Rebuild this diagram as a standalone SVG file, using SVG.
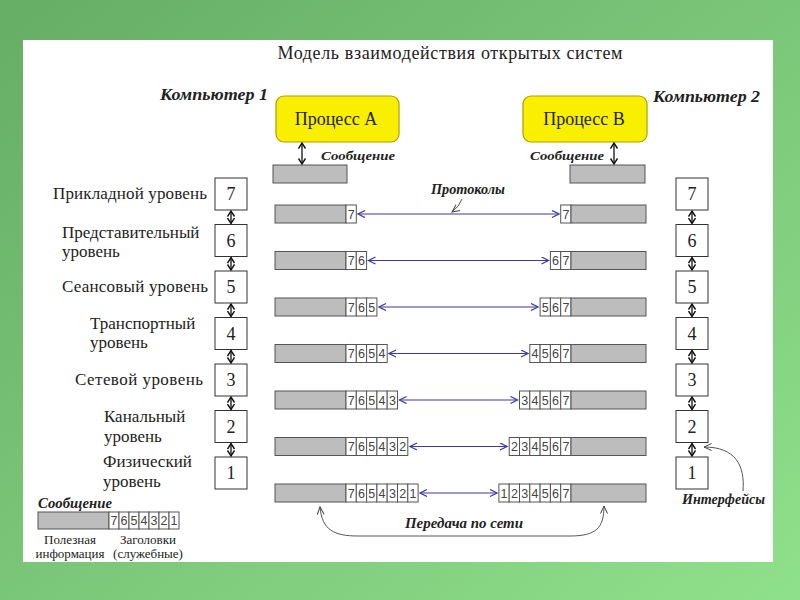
<svg xmlns="http://www.w3.org/2000/svg" width="800" height="600" viewBox="0 0 800 600">
<style>
.serif{font-family:'Liberation Serif','DejaVu Serif',serif;fill:#222}
.lbl{font-size:17px}
.it{font-family:'Liberation Serif','DejaVu Serif',serif;font-style:italic;font-weight:bold;fill:#222}
.gray{fill:#bdbdbd;stroke:#555;stroke-width:1}
.cell{fill:#fff;stroke:#555;stroke-width:1}
.cn{font-family:'Liberation Sans',Arial,sans-serif;font-size:12.5px;fill:#444;text-anchor:middle}
.box{fill:#fff;stroke:#333;stroke-width:1}
.bn{font-family:'Liberation Serif','DejaVu Serif',serif;font-size:18px;fill:#222;text-anchor:middle}
.proc{fill:#f8f000;stroke:#b59a00;stroke-width:1.2}
.blue{stroke:#3b3ba8;stroke-width:1.2;fill:none;marker-start:url(#bh);marker-end:url(#bh)}
.blk{stroke:#111;stroke-width:1.3;fill:none;marker-start:url(#kh);marker-end:url(#kh)}
.thin{stroke:#555;stroke-width:1;fill:none}
</style>
<defs>
<linearGradient id="bg" x1="0" y1="0" x2="1" y2="1">
<stop offset="0" stop-color="#66ad66"/>
<stop offset="1" stop-color="#8fe08b"/>
</linearGradient>
<marker id="bh" markerUnits="userSpaceOnUse" markerWidth="10" markerHeight="10" refX="8" refY="4" orient="auto-start-reverse">
<path d="M1,0.5 L8,4 L1,7.5" fill="none" stroke="#3b3ba8" stroke-width="1.3"/>
</marker>
<marker id="kh" markerUnits="userSpaceOnUse" markerWidth="10" markerHeight="10" refX="6" refY="4" orient="auto-start-reverse">
<path d="M0.5,0.5 L6,4 L0.5,7.5" fill="none" stroke="#111" stroke-width="1.4"/>
</marker>
<marker id="gh" markerUnits="userSpaceOnUse" markerWidth="12" markerHeight="12" refX="8" refY="4" orient="auto-start-reverse">
<path d="M0.5,0.5 L8,4 L0.5,7.5" fill="none" stroke="#444" stroke-width="1"/>
</marker>
</defs>
<rect x="0" y="0" width="800" height="600" fill="url(#bg)"/>
<rect x="23" y="40" width="750" height="522" fill="#fff"/>
<text class="serif" x="450" y="59" font-size="18" text-anchor="middle" textLength="345">Модель взаимодействия открытых систем</text>
<text class="it" x="160" y="100" font-size="16" textLength="108" lengthAdjust="spacingAndGlyphs">Компьютер 1</text>
<text class="it" x="653" y="102" font-size="16" textLength="107" lengthAdjust="spacingAndGlyphs">Компьютер 2</text>

<g id="procA">
<rect class="proc" x="276" y="96" width="123" height="46" rx="8"/>
<text class="serif" x="336" y="125" font-size="18" text-anchor="middle">Процесс А</text>
</g>
<g id="procB">
<rect class="proc" x="523" y="96" width="124" height="46" rx="8"/>
<text class="serif" x="584" y="125" font-size="18" text-anchor="middle">Процесс В</text>
</g>
<g id="msgA">
<rect class="gray" x="273" y="165" width="74" height="18"/>
<text class="it" x="321" y="160" font-size="13.5" textLength="74" lengthAdjust="spacingAndGlyphs">Сообщение</text>
</g>
<g id="msgB">
<rect class="gray" x="570" y="165" width="75" height="18"/>
<text class="it" x="530" y="160" font-size="13.5" textLength="74" lengthAdjust="spacingAndGlyphs">Сообщение</text>
</g>

<g id="left-stack">
<g id="L7"><rect class="box" x="215" y="178" width="32" height="32"/><text class="bn" x="231" y="200">7</text><text class="serif lbl" x="53" y="199" textLength="154">Прикладной уровень</text></g>
<g id="L6"><rect class="box" x="215" y="224.5" width="32" height="32"/><text class="bn" x="231" y="246.5">6</text><text class="serif lbl" x="62" y="238">Представительный</text><text class="serif lbl" x="62" y="257">уровень</text></g>
<g id="L5"><rect class="box" x="215" y="271" width="32" height="32"/><text class="bn" x="231" y="293">5</text><text class="serif lbl" x="62" y="292" textLength="146">Сеансовый уровень</text></g>
<g id="L4"><rect class="box" x="215" y="317.5" width="32" height="32"/><text class="bn" x="231" y="339.5">4</text><text class="serif lbl" x="90" y="329">Транспортный</text><text class="serif lbl" x="90" y="348">уровень</text></g>
<g id="L3"><rect class="box" x="215" y="364" width="32" height="32"/><text class="bn" x="231" y="386">3</text><text class="serif lbl" x="75" y="385" textLength="128">Сетевой уровень</text></g>
<g id="L2"><rect class="box" x="215" y="410.5" width="32" height="32"/><text class="bn" x="231" y="432.5">2</text><text class="serif lbl" x="104" y="422">Канальный</text><text class="serif lbl" x="104" y="442">уровень</text></g>
<g id="L1"><rect class="box" x="215" y="457" width="32" height="32"/><text class="bn" x="231" y="479">1</text><text class="serif lbl" x="103" y="467">Физический</text><text class="serif lbl" x="103" y="487">уровень</text></g>
</g>

<g id="right-stack">
<g id="R7"><rect class="box" x="676" y="178" width="32" height="32"/><text class="bn" x="692" y="200">7</text></g>
<g id="R6"><rect class="box" x="676" y="224.5" width="32" height="32"/><text class="bn" x="692" y="246.5">6</text></g>
<g id="R5"><rect class="box" x="676" y="271" width="32" height="32"/><text class="bn" x="692" y="293">5</text></g>
<g id="R4"><rect class="box" x="676" y="317.5" width="32" height="32"/><text class="bn" x="692" y="339.5">4</text></g>
<g id="R3"><rect class="box" x="676" y="364" width="32" height="32"/><text class="bn" x="692" y="386">3</text></g>
<g id="R2"><rect class="box" x="676" y="410.5" width="32" height="32"/><text class="bn" x="692" y="432.5">2</text></g>
<g id="R1"><rect class="box" x="676" y="457" width="32" height="32"/><text class="bn" x="692" y="479">1</text></g>
</g>

<g id="row7">
<rect class="gray" x="275" y="205" width="71" height="18"/>
<rect class="cell" x="346" y="205" width="10.3" height="18"/><text class="cn" x="351.2" y="218.5">7</text>
<rect class="cell" x="560.7" y="205" width="10.3" height="18"/><text class="cn" x="565.9" y="218.5">7</text>
<rect class="gray" x="571" y="205" width="75" height="18"/>
</g>
<g id="row6">
<rect class="gray" x="275" y="251.5" width="71" height="18"/>
<rect class="cell" x="346" y="251.5" width="10.3" height="18"/><text class="cn" x="351.2" y="265">7</text>
<rect class="cell" x="356.3" y="251.5" width="10.3" height="18"/><text class="cn" x="361.5" y="265">6</text>
<rect class="cell" x="550.4" y="251.5" width="10.3" height="18"/><text class="cn" x="555.6" y="265">6</text>
<rect class="cell" x="560.7" y="251.5" width="10.3" height="18"/><text class="cn" x="565.9" y="265">7</text>
<rect class="gray" x="571" y="251.5" width="75" height="18"/>
</g>
<g id="row5">
<rect class="gray" x="275" y="298" width="71" height="18"/>
<rect class="cell" x="346" y="298" width="10.3" height="18"/><text class="cn" x="351.2" y="311.5">7</text>
<rect class="cell" x="356.3" y="298" width="10.3" height="18"/><text class="cn" x="361.5" y="311.5">6</text>
<rect class="cell" x="366.6" y="298" width="10.3" height="18"/><text class="cn" x="371.8" y="311.5">5</text>
<rect class="cell" x="540.1" y="298" width="10.3" height="18"/><text class="cn" x="545.3" y="311.5">5</text>
<rect class="cell" x="550.4" y="298" width="10.3" height="18"/><text class="cn" x="555.6" y="311.5">6</text>
<rect class="cell" x="560.7" y="298" width="10.3" height="18"/><text class="cn" x="565.9" y="311.5">7</text>
<rect class="gray" x="571" y="298" width="75" height="18"/>
</g>
<g id="row4">
<rect class="gray" x="275" y="344.5" width="71" height="18"/>
<rect class="cell" x="346" y="344.5" width="10.3" height="18"/><text class="cn" x="351.2" y="358">7</text>
<rect class="cell" x="356.3" y="344.5" width="10.3" height="18"/><text class="cn" x="361.5" y="358">6</text>
<rect class="cell" x="366.6" y="344.5" width="10.3" height="18"/><text class="cn" x="371.8" y="358">5</text>
<rect class="cell" x="376.9" y="344.5" width="10.3" height="18"/><text class="cn" x="382.1" y="358">4</text>
<rect class="cell" x="529.8" y="344.5" width="10.3" height="18"/><text class="cn" x="535" y="358">4</text>
<rect class="cell" x="540.1" y="344.5" width="10.3" height="18"/><text class="cn" x="545.3" y="358">5</text>
<rect class="cell" x="550.4" y="344.5" width="10.3" height="18"/><text class="cn" x="555.6" y="358">6</text>
<rect class="cell" x="560.7" y="344.5" width="10.3" height="18"/><text class="cn" x="565.9" y="358">7</text>
<rect class="gray" x="571" y="344.5" width="75" height="18"/>
</g>
<g id="row3">
<rect class="gray" x="275" y="391" width="71" height="18"/>
<rect class="cell" x="346" y="391" width="10.3" height="18"/><text class="cn" x="351.2" y="404.5">7</text>
<rect class="cell" x="356.3" y="391" width="10.3" height="18"/><text class="cn" x="361.5" y="404.5">6</text>
<rect class="cell" x="366.6" y="391" width="10.3" height="18"/><text class="cn" x="371.8" y="404.5">5</text>
<rect class="cell" x="376.9" y="391" width="10.3" height="18"/><text class="cn" x="382.1" y="404.5">4</text>
<rect class="cell" x="387.2" y="391" width="10.3" height="18"/><text class="cn" x="392.4" y="404.5">3</text>
<rect class="cell" x="519.5" y="391" width="10.3" height="18"/><text class="cn" x="524.7" y="404.5">3</text>
<rect class="cell" x="529.8" y="391" width="10.3" height="18"/><text class="cn" x="535" y="404.5">4</text>
<rect class="cell" x="540.1" y="391" width="10.3" height="18"/><text class="cn" x="545.3" y="404.5">5</text>
<rect class="cell" x="550.4" y="391" width="10.3" height="18"/><text class="cn" x="555.6" y="404.5">6</text>
<rect class="cell" x="560.7" y="391" width="10.3" height="18"/><text class="cn" x="565.9" y="404.5">7</text>
<rect class="gray" x="571" y="391" width="75" height="18"/>
</g>
<g id="row2">
<rect class="gray" x="275" y="437.5" width="71" height="18"/>
<rect class="cell" x="346" y="437.5" width="10.3" height="18"/><text class="cn" x="351.2" y="451">7</text>
<rect class="cell" x="356.3" y="437.5" width="10.3" height="18"/><text class="cn" x="361.5" y="451">6</text>
<rect class="cell" x="366.6" y="437.5" width="10.3" height="18"/><text class="cn" x="371.8" y="451">5</text>
<rect class="cell" x="376.9" y="437.5" width="10.3" height="18"/><text class="cn" x="382.1" y="451">4</text>
<rect class="cell" x="387.2" y="437.5" width="10.3" height="18"/><text class="cn" x="392.4" y="451">3</text>
<rect class="cell" x="397.5" y="437.5" width="10.3" height="18"/><text class="cn" x="402.7" y="451">2</text>
<rect class="cell" x="509.2" y="437.5" width="10.3" height="18"/><text class="cn" x="514.4" y="451">2</text>
<rect class="cell" x="519.5" y="437.5" width="10.3" height="18"/><text class="cn" x="524.7" y="451">3</text>
<rect class="cell" x="529.8" y="437.5" width="10.3" height="18"/><text class="cn" x="535" y="451">4</text>
<rect class="cell" x="540.1" y="437.5" width="10.3" height="18"/><text class="cn" x="545.3" y="451">5</text>
<rect class="cell" x="550.4" y="437.5" width="10.3" height="18"/><text class="cn" x="555.6" y="451">6</text>
<rect class="cell" x="560.7" y="437.5" width="10.3" height="18"/><text class="cn" x="565.9" y="451">7</text>
<rect class="gray" x="571" y="437.5" width="75" height="18"/>
</g>
<g id="row1">
<rect class="gray" x="275" y="484" width="71" height="18"/>
<rect class="cell" x="346" y="484" width="10.3" height="18"/><text class="cn" x="351.2" y="497.5">7</text>
<rect class="cell" x="356.3" y="484" width="10.3" height="18"/><text class="cn" x="361.5" y="497.5">6</text>
<rect class="cell" x="366.6" y="484" width="10.3" height="18"/><text class="cn" x="371.8" y="497.5">5</text>
<rect class="cell" x="376.9" y="484" width="10.3" height="18"/><text class="cn" x="382.1" y="497.5">4</text>
<rect class="cell" x="387.2" y="484" width="10.3" height="18"/><text class="cn" x="392.4" y="497.5">3</text>
<rect class="cell" x="397.5" y="484" width="10.3" height="18"/><text class="cn" x="402.7" y="497.5">2</text>
<rect class="cell" x="407.8" y="484" width="10.3" height="18"/><text class="cn" x="413" y="497.5">1</text>
<rect class="cell" x="498.9" y="484" width="10.3" height="18"/><text class="cn" x="504.1" y="497.5">1</text>
<rect class="cell" x="509.2" y="484" width="10.3" height="18"/><text class="cn" x="514.4" y="497.5">2</text>
<rect class="cell" x="519.5" y="484" width="10.3" height="18"/><text class="cn" x="524.7" y="497.5">3</text>
<rect class="cell" x="529.8" y="484" width="10.3" height="18"/><text class="cn" x="535" y="497.5">4</text>
<rect class="cell" x="540.1" y="484" width="10.3" height="18"/><text class="cn" x="545.3" y="497.5">5</text>
<rect class="cell" x="550.4" y="484" width="10.3" height="18"/><text class="cn" x="555.6" y="497.5">6</text>
<rect class="cell" x="560.7" y="484" width="10.3" height="18"/><text class="cn" x="565.9" y="497.5">7</text>
<rect class="gray" x="571" y="484" width="75" height="18"/>
</g>

<g id="legend">
<text class="it" x="38" y="508" font-size="14" textLength="74" lengthAdjust="spacingAndGlyphs">Сообщение</text>
<rect class="gray" x="38" y="512" width="71" height="17"/>
<rect class="cell" x="109" y="512" width="10" height="17"/><text class="cn" x="114" y="525">7</text>
<rect class="cell" x="119" y="512" width="10" height="17"/><text class="cn" x="124" y="525">6</text>
<rect class="cell" x="129" y="512" width="10" height="17"/><text class="cn" x="134" y="525">5</text>
<rect class="cell" x="139" y="512" width="10" height="17"/><text class="cn" x="144" y="525">4</text>
<rect class="cell" x="149" y="512" width="10" height="17"/><text class="cn" x="154" y="525">3</text>
<rect class="cell" x="159" y="512" width="10" height="17"/><text class="cn" x="164" y="525">2</text>
<rect class="cell" x="169" y="512" width="10" height="17"/><text class="cn" x="174" y="525">1</text>
<text class="serif" x="70" y="544" font-size="13" text-anchor="middle">Полезная</text>
<text class="serif" x="70" y="558" font-size="13" text-anchor="middle">информация</text>
<text class="serif" x="148" y="544" font-size="13" text-anchor="middle">Заголовки</text>
<text class="serif" x="148" y="558" font-size="13" text-anchor="middle">(служебные)</text>
</g>

<g id="annotations">
<text class="it" x="431" y="194" font-size="14" textLength="74" lengthAdjust="spacingAndGlyphs">Протоколы</text>
<text class="it" x="405" y="528" font-size="15" textLength="118" lengthAdjust="spacingAndGlyphs">Передача по сети</text>
<text class="it" x="682" y="504" font-size="14" textLength="83" lengthAdjust="spacingAndGlyphs">Интерфейсы</text>
</g>

<g id="connectors">
<line class="blk" x1="302" y1="143" x2="302" y2="164"/>
<line class="blk" x1="614" y1="143" x2="614" y2="164"/>
<line class="blk" x1="231" y1="211" x2="231" y2="223.5"/>
<line class="blk" x1="231" y1="257.5" x2="231" y2="270"/>
<line class="blk" x1="231" y1="304" x2="231" y2="316.5"/>
<line class="blk" x1="231" y1="350.5" x2="231" y2="363"/>
<line class="blk" x1="231" y1="397" x2="231" y2="409.5"/>
<line class="blk" x1="231" y1="443.5" x2="231" y2="456"/>
<line class="blk" x1="692" y1="211" x2="692" y2="223.5"/>
<line class="blk" x1="692" y1="257.5" x2="692" y2="270"/>
<line class="blk" x1="692" y1="304" x2="692" y2="316.5"/>
<line class="blk" x1="692" y1="350.5" x2="692" y2="363"/>
<line class="blk" x1="692" y1="397" x2="692" y2="409.5"/>
<line class="blk" x1="692" y1="443.5" x2="692" y2="456"/>
<line class="blue" x1="358" y1="214" x2="559" y2="214"/>
<line class="blue" x1="368.5" y1="260.5" x2="548.5" y2="260.5"/>
<line class="blue" x1="379" y1="307" x2="538" y2="307"/>
<line class="blue" x1="389" y1="353.5" x2="528" y2="353.5"/>
<line class="blue" x1="399.5" y1="400" x2="517.5" y2="400"/>
<line class="blue" x1="410" y1="446.5" x2="507" y2="446.5"/>
<line class="blue" x1="420" y1="493" x2="497" y2="493"/>
<path class="thin" d="M462,199 Q459,207 452,212" marker-end="url(#gh)"/>
<path class="thin" d="M320,507 C322,530 334,536 358,536 L570,536 C596,536 604,528 604,506" marker-start="url(#gh)" marker-end="url(#gh)"/>
<path class="thin" d="M743,491 C745,466 736,447 704,447" marker-end="url(#gh)"/>
</g>
</svg>
